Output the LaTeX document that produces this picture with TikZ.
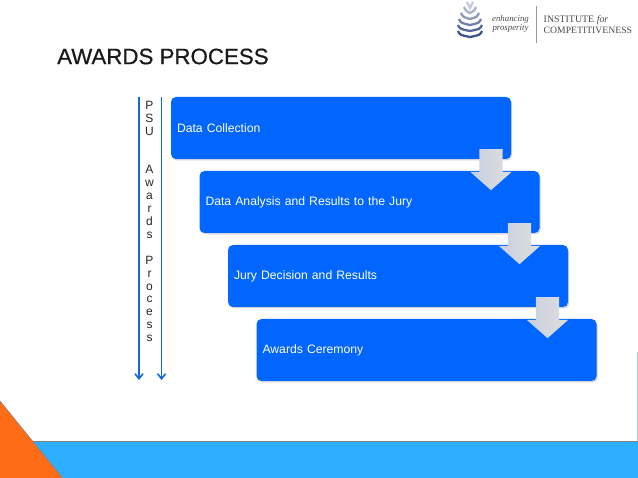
\documentclass[tikz,border=0pt]{standalone}
\usepackage{fontspec}
\setmainfont{Liberation Sans}
\newfontfamily\titlefont[FakeBold=0.6]{Liberation Sans}
\newfontfamily\logofont{Liberation Serif}
\usetikzlibrary{shapes.arrows,shadows,arrows.meta}
\definecolor{boxblue}{HTML}{0066FF}
\definecolor{linkblue}{HTML}{1267DA}
\definecolor{bandblue}{HTML}{2EAEFF}
\definecolor{cornerorange}{HTML}{FF6C17}
\definecolor{logoblue}{HTML}{3F5590}
\definecolor{arrowtop}{HTML}{C8CFDF}
\definecolor{arrowbot}{HTML}{DEDEDE}
\definecolor{edgeteal}{HTML}{A8D0DA}
\tikzset{
  stagebox/.style={shape=rectangle,rounded corners=5pt,fill=boxblue,text=white,
    minimum width=340pt,minimum height=62pt,text width=328pt,inner sep=6pt,align=left,
    font=\fontsize{12.2pt}{15pt}\selectfont,
    drop shadow={shadow xshift=1pt,shadow yshift=-1.5pt,opacity=0.35}},
  downarrow/.style={shape=single arrow,rotate=-90,inner xsep=0pt,inner ysep=11.5pt,
    minimum height=41pt,single arrow head extend=9pt,
    single arrow tip angle=97,single arrow head indent=0pt,
    left color=arrowtop,right color=arrowbot},
  sideline/.style={draw=linkblue,line width=1.6pt,-{Straight Barb[length=5pt,width=8pt]}},
  logotext/.style={inner sep=0pt,text=black!70}
}
\begin{document}
\begin{tikzpicture}[x=1pt,y=-1pt]
\useasboundingbox (0,0) rectangle (638,478);
% bottom band and corner
\fill[bandblue] (33,441) rectangle (638,478);
\draw[gray,line width=0.6pt] (33,441) -- (638,441);
\draw[edgeteal,line width=1pt] (637.5,352) -- (637.5,441);
\fill[cornerorange] (0,401) -- (62.5,478) -- (0,478) -- cycle;
\draw[gray,line width=0.5pt] (0,401) -- (62.5,478);
% title
\node(title) at (57,56.5)[anchor=west,inner sep=0pt,font=\titlefont\fontsize{22.3pt}{26pt}\selectfont,text=black!90] {AWARDS PROCESS};
% logo
\foreach \y/\w/\m in {37/12/100,31/12/90,25/11/75,19/9/60,13/6/45,8/3/30}
  \draw[draw=logoblue!\m,line width=2.3pt] (470-\w,\y-6) .. controls (470-\w+2,\y-2) .. (470,\y) .. controls (470+\w-2,\y-2) .. (470+\w,\y-6);
\node(enh) at (510.5,19.5)[logotext,font=\logofont\itshape\fontsize{8.8pt}{10pt}\selectfont] {enhancing};
\node(pro) at (510.5,28.5)[logotext,font=\logofont\itshape\fontsize{8.8pt}{10pt}\selectfont] {prosperity};
\draw[black!40,line width=0.7pt] (536,6) -- (536,43);
\node(inst) at (543.5,20)[anchor=west,logotext,font=\logofont\fontsize{9.9pt}{10pt}\selectfont] {INSTITUTE \textit{for}};
\node(comp) at (543.5,30.5)[anchor=west,logotext,font=\logofont\fontsize{9.7pt}{10pt}\selectfont] {COMPETITIVENESS};
% side lines
\coordinate(a0) at (139,97);
\coordinate(a1) at (139,380);
\coordinate(b0) at (161.5,97);
\coordinate(b1) at (161.5,380);
\draw[sideline] (a0) -- (a1);
\draw[sideline] (b0) -- (b1);
\node(side) at (149.5,101)[anchor=north,inner sep=0pt,align=center,font=\fontsize{12pt}{12.9pt}\selectfont,text=black!85]
  {P\\S\\U\\ \\ \\A\\w\\a\\r\\d\\s\\ \\P\\r\\o\\c\\e\\s\\s};
% stages
\node(s1) at (341,128)[stagebox] {Data Collection};
\node(s2) at (369.5,202)[stagebox] {Data Analysis and Results to the Jury};
\node(s3) at (398,276)[stagebox] {Jury Decision and Results};
\node(s4) at (426.5,350)[stagebox] {Awards Ceremony};
% block arrows
\node(d1) at (491,164.5)[downarrow] {};
\node(d2) at (519.5,238.5)[downarrow] {};
\node(d3) at (547.5,312.5)[downarrow] {};
\end{tikzpicture}
\end{document}
